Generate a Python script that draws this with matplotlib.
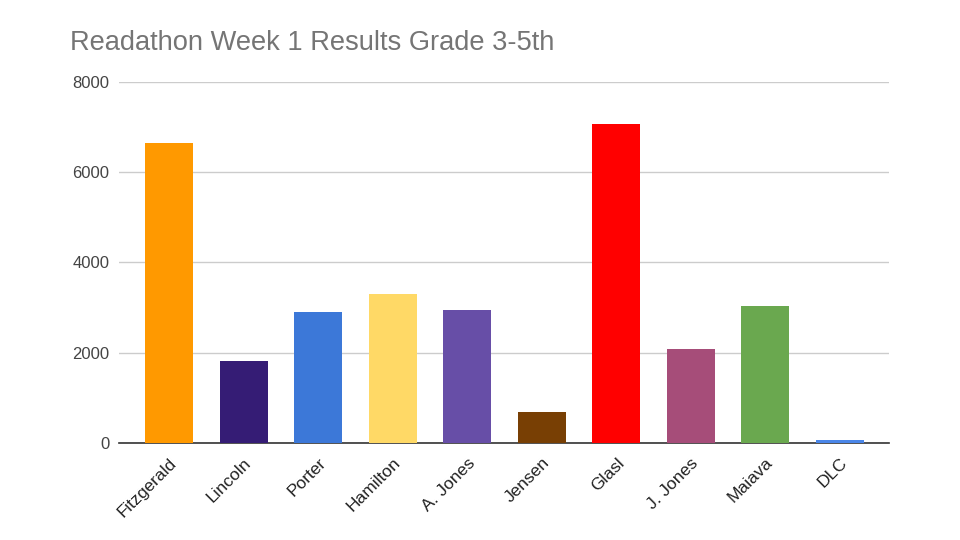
import matplotlib.pyplot as plt
import numpy as np

plt.rcParams['font.family'] = ['Liberation Sans', 'DejaVu Sans']

classes = ['Fitzgerald', 'Lincoln', 'Porter', 'Hamilton', 'A. Jones',
           'Jensen', 'Glasl', 'J. Jones', 'Maiava', 'DLC']
minutes = [6650, 1810, 2905, 3290, 2942, 687, 7067, 2071, 3038, 60]
colors = ['#ff9900', '#351c75', '#3c78d8', '#ffd966', '#674ea7',
          '#783f04', '#ff0000', '#a64d79', '#6aa84f', '#4a86e8']
yticks = [0, 2000, 4000, 6000, 8000]

fig = plt.figure(figsize=(9.6, 5.4), dpi=100)
ax = fig.add_axes([119/960, 1 - 442.7/540, 770/960, (442.7 - 82)/540])

x = np.arange(len(classes))
ax.bar(x, minutes, width=0.64, color=colors, zorder=5)

ax.set_ylim(0, 8000)
ax.set_xlim(-0.675, 9.66)
ax.set_yticks(yticks)
ax.set_yticklabels([str(v) for v in yticks], fontsize=12, color='#444444')
ax.set_xticks(x)
ax.set_xticklabels(classes, rotation=45, ha='right', rotation_mode='anchor',
                   fontsize=12.5, color='#222222')
ax.tick_params(axis='both', length=0)
ax.tick_params(axis='y', pad=7)
ax.tick_params(axis='x', pad=9)

ax.grid(axis='y', color='#cccccc', linewidth=1, zorder=0)
for s in ['top', 'right', 'left']:
    ax.spines[s].set_visible(False)
ax.spines['bottom'].set_color('#333333')
ax.spines['bottom'].set_linewidth(1.2)
ax.spines['bottom'].set_zorder(4)

fig.text(70/960, 1 - 43/540, 'Readathon Week 1 Results Grade 3-5th',
         fontsize=19.6, color='#757575', va='center', ha='left')

fig.savefig('out.png', dpi=100, facecolor='white')
